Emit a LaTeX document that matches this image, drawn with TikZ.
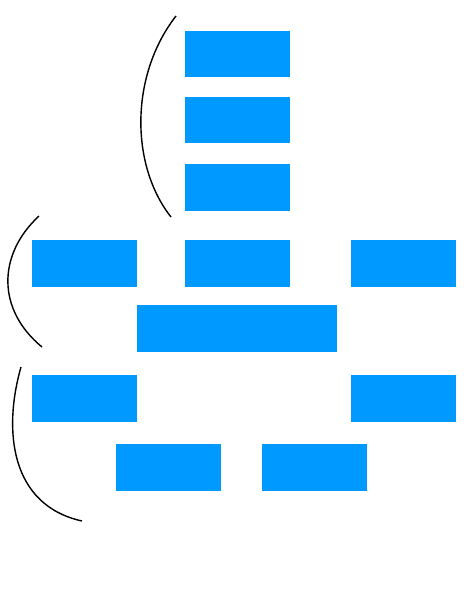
\documentclass[tikz,border=0pt]{standalone}
\usepackage{tikz}
\definecolor{barblue}{HTML}{0099FF}
\begin{document}
\begin{tikzpicture}[x=1pt,y=-1pt,
  bar/.style={fill=barblue,inner sep=0pt,outer sep=0pt,minimum width=105pt,minimum height=46.5pt},
  widebar/.style={bar,minimum width=200pt},
  brace/.style={line width=1.4pt,black}]
\useasboundingbox (0,0) rectangle (474,611);
% column on top
\node [bar] (c1) at (237.5,54) {};
\node [bar] (c2) at (237.5,120) {};
\node [bar] (c3) at (237.5,187.5) {};
% middle row
\node [bar] (ml) at (84.7,263.7) {};
\node [bar] (mc) at (237.5,263.7) {};
\node [bar] (mr) at (403.7,263.7) {};
\node [widebar] (w) at (237.3,328.7) {};
% lower rows
\node [bar] (ll) at (84.7,398.3) {};
\node [bar] (lr) at (403.7,398.3) {};
\node [bar] (bl) at (168,467.3) {};
\node [bar] (br) at (314,467.3) {};
% curves
\coordinate (a1) at (176,16);
\coordinate (a2) at (171,217);
\coordinate (b1) at (39,216);
\coordinate (b2) at (42,347);
\coordinate (d1) at (21,367);
\coordinate (d2) at (82,521);
\draw [brace] (a1) .. controls (130,75) and (130,165) .. (a2);
\draw [brace] (b1) .. controls (-3,255) and (-3,310) .. (b2);
\draw [brace] (d1) .. controls (3,430) and (10,505) .. (d2);
\end{tikzpicture}
\end{document}
